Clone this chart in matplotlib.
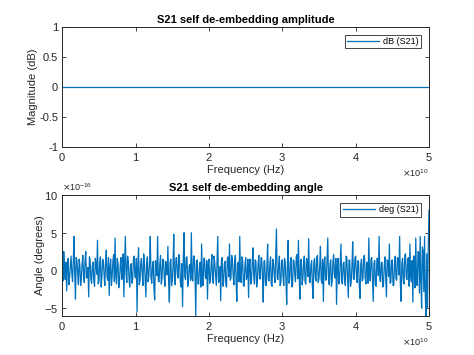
import numpy as np
import matplotlib
matplotlib.use("Agg")
from matplotlib import pyplot as plt
from matplotlib.ticker import ScalarFormatter, FuncFormatter

plt.rcParams['font.family'] = ['Liberation Sans', 'DejaVu Sans']
plt.rcParams['axes.unicode_minus'] = False

# ----------------- Data -----------------
f_start = 0.0
f_stop = 5e10
n_points = 501
freq = np.linspace(f_start, f_stop, n_points)

# self de-embedding -> S21 magnitude is exactly 0 dB everywhere
mag_db = np.zeros(n_points)

# phase residue (units of 1e-16 degrees)
phase_e16 = [
    0.5, -1.4, 2.5, 0.3, -1.2, 1.1, -2.7, 0.8, 1.6, -1.9, -0.8, 0.6, 1.9, -0.4, -1.5, 1.2, 4.5, -0.6, -3.8, 1.7,
    1.3, -0.5, -1.9, 1.5, 0.7, -2.0, -1.1, 0.9, 2.0, -0.7, -1.6, 1.3, 2.5, -1.0, -0.9, 0.4, -3.5, 1.8, 1.4, -1.2,
    -1.7, 0.6, 1.1, -1.4, -2.1, 1.6, 0.8, -0.5, 4.0, -1.8, -1.5, 0.9, 1.8, -2.2, -1.0, 1.5, 1.2, -0.6, -2.0, 1.1,
    2.7, -0.8, -1.3, 1.7, -3.3, 0.5, 1.5, -2.0, -0.7, 1.2, 2.1, -1.5, 4.3, -0.9, -1.8, 1.6, 1.0, -2.3, -1.4, 0.7,
    1.7, -1.2, -0.9, 2.2, -3.5, 1.0, 4.5, -0.4, -1.6, 1.9, 1.3, -1.1, -2.2, 0.5, 0.9, -1.7, -1.2, 1.4, 1.9, -0.8,
    -1.0, 1.6, -5.5, 0.7, 3.0, -1.9, -1.4, 1.0, 1.6, -0.6, -2.0, 2.2, 1.1, -1.3, -3.5, 0.8, 1.8, -1.5, -0.8, 1.2,
    4.5, -1.0, -1.7, 0.6, 1.2, -2.4, -3.9, 1.3, 0.9, -0.7, 4.5, -1.4, -1.5, 0.8, 2.0, -1.8, -1.1, 1.5, 1.4, -0.9,
    -2.1, 1.2, 1.0, -0.6, 3.2, -1.5, -4.2, 1.1, 1.5, -2.0, -1.3, 0.7, 4.8, -1.2, -1.9, 1.6, 1.7, -0.5, -1.0, 2.1,
    1.3, -1.6, -2.2, 0.9, -4.8, 1.4, 5.0, -0.8, -1.2, 1.7, 1.8, -2.1, -1.6, 0.6, 0.8, -1.3, 5.0, -1.0, -1.4, 1.9,
    1.9, -0.7, -6.0, 1.2, 1.4, -1.8, -1.8, 0.5, 1.1, -2.2, 3.5, -1.0, -2.0, 1.6, 1.6, -0.9, -1.1, 1.3, -3.8, 0.7,
    1.5, -1.7, -1.2, 0.8, 2.1, -1.4, -1.7, 1.9, 0.9, -0.6, -2.0, 1.2, 4.5, -1.6, -1.3, 0.5, -4.0, 1.4, 1.7, -2.1,
    -1.5, 0.9, 1.2, -1.9, -2.2, 1.5, 1.8, -0.8, 3.5, -1.3, -1.0, 2.0, 1.4, -0.7, -1.9, 1.1, 2.0, -1.6, -4.1, 0.8,
    1.1, -1.5, 4.5, -0.9, -1.6, 1.8, 1.3, -2.0, -2.1, 0.6, 1.7, -1.2, -0.9, 1.5, -3.6, 0.7, 1.5, -1.8, -1.4, 1.0,
    3.0, -0.6, -1.8, 1.4, 1.2, -2.2, -1.5, 0.9, 2.0, -1.1, -1.1, 1.7, 1.6, -0.8, -4.2, 1.2, 1.3, -1.6, -2.0, 0.5,
    3.5, -1.3, -1.4, 0.8, 1.8, -1.9, -2.1, 1.5, 1.0, -0.7, -1.6, 2.1, 5.5, -1.0, -1.2, 0.6, 1.9, -2.0, -1.7, 1.2,
    1.4, -0.9, -2.0, 1.6, 1.1, -1.3, -4.5, 0.8, 4.0, -1.7, -1.3, 1.0, 1.7, -2.2, -1.9, 1.4, 1.2, -0.6, -1.5, 1.8,
    2.1, -1.1, 4.0, -0.7, -3.8, 1.3, 1.5, -1.9, -1.2, 0.9, 1.9, -1.5, -1.8, 1.6, 1.0, -0.8, 4.2, -1.4, -1.6, 0.7,
    1.3, -2.0, -3.7, 1.1, 1.6, -0.9, -1.4, 1.8, 2.0, -1.6, -1.1, 0.6, 3.2, -1.2, -1.7, 1.5, -4.1, 0.9, 1.8, -1.3,
    -1.2, 1.7, 4.3, -1.0, -1.9, 0.8, 1.4, -2.1, -1.5, 1.2, 2.1, -0.7, -1.0, 1.6, -4.5, 0.5, 1.6, -1.8, -1.3, 1.1,
    3.5, -1.5, -1.8, 0.9, 1.1, -1.2, -2.0, 1.9, 1.7, -0.8, -3.6, 1.4, 1.3, -2.1, -1.5, 0.7, 3.8, -1.1, -1.2, 1.6,
    1.9, -0.6, -1.6, 1.3, 1.2, -2.0, -3.7, 0.8, 1.5, -1.4, -1.1, 1.8, 2.0, -0.9, -1.8, 1.1, 1.0, -1.7, 4.3, -0.5,
    -1.4, 1.5, 1.7, -1.2, -4.1, 0.9, 1.3, -1.9, -2.1, 1.6, 1.6, -0.7, 4.5, -1.3, -1.5, 1.0, 1.1, -2.2, -1.9, 0.6,
    1.8, -1.0, -3.5, 1.4, 1.2, -0.8, 3.5, -1.7, -1.6, 1.2, 1.4, -2.0, -2.0, 0.9, 1.9, -1.1, -1.3, 1.7, 1.5, -0.6,
    4.5, -1.8, -4.1, 1.0, 1.6, -1.4, -1.8, 2.0, 2.2, -0.9, -1.2, 1.5, 1.7, -2.1, 3.5, -0.7, -1.5, 1.3, -4.2, 1.9,
    1.9, -2.3, 4.3, -1.6, -2.0, 2.5, 2.4, -3.0, 4.5, -1.2, -5.0, 3.1, 2.6, -2.8, 4.5, -3.5, -6.0, 2.2, -5.0, 3.0,
    8.0,
]
phase_deg = np.array(phase_e16) * 1e-16

x_ticks = [0, 1e10, 2e10, 3e10, 4e10, 5e10]
mag_ticks = [-1, -0.5, 0, 0.5, 1]
ang_ticks = [-5e-16, 0, 5e-16, 10e-16]

line_color = '#0072BD'
axis_color = '#262626'


class FixedOrderFormatter(ScalarFormatter):
    # keep the multiplier at a fixed power of ten, like MATLAB does
    def __init__(self, order):
        super().__init__(useMathText=True)
        self._fixed_order = order

    def _set_order_of_magnitude(self):
        self.orderOfMagnitude = self._fixed_order


def style_axes(ax):
    for s in ax.spines.values():
        s.set_color(axis_color)
        s.set_linewidth(0.7)
    ax.tick_params(direction='in', top=True, right=True, length=3,
                   width=0.6, colors=axis_color, labelsize=8, pad=3)
    ax.xaxis.get_offset_text().set_fontsize(6.5)
    ax.yaxis.get_offset_text().set_fontsize(6.5)


def add_legend(ax):
    leg = ax.legend(loc='upper right', fontsize=6.5, fancybox=False, framealpha=1,
                    handlelength=3.6, handletextpad=0.4, borderpad=0.25,
                    borderaxespad=0.9)
    leg.get_frame().set_edgecolor(axis_color)
    leg.get_frame().set_linewidth(0.6)


fig = plt.figure(figsize=(4.74, 3.55), dpi=100)

# ----------------- Amplitude -----------------
ax1 = fig.add_axes([0.1314, 0.5868, 0.7736, 0.338])
ax1.plot(freq, mag_db, color=line_color, lw=0.9, label='dB (S21)')
ax1.set_xlim(0, 5e10)
ax1.set_ylim(-1, 1)
ax1.set_xticks(x_ticks)
ax1.set_yticks(mag_ticks)
ax1.yaxis.set_major_formatter(FuncFormatter(lambda v, p: f'{v:g}'))
ax1.xaxis.set_major_formatter(FixedOrderFormatter(10))
ax1.set_xlabel('Frequency (Hz)', fontsize=8, color=axis_color, labelpad=1.5)
ax1.set_ylabel('Magnitude (dB)', fontsize=8, color=axis_color, labelpad=1)
ax1.set_title('S21 self de-embedding amplitude', fontsize=8, fontweight='bold', pad=3)
style_axes(ax1)
add_legend(ax1)

# ----------------- Angle -----------------
ax2 = fig.add_axes([0.1314, 0.1107, 0.7736, 0.340])
ax2.plot(freq, phase_deg, color=line_color, lw=0.9, label='deg (S21)')
ax2.set_xlim(0, 5e10)
ax2.set_ylim(-6e-16, 10e-16)
ax2.set_xticks(x_ticks)
ax2.set_yticks(ang_ticks)
ax2.xaxis.set_major_formatter(FixedOrderFormatter(10))
ax2.yaxis.set_major_formatter(FixedOrderFormatter(-16))
ax2.set_xlabel('Frequency (Hz)', fontsize=8, color=axis_color, labelpad=1.5)
ax2.set_ylabel('Angle (degrees)', fontsize=8, color=axis_color, labelpad=-1)
ax2.set_title('S21 self de-embedding angle', fontsize=8, fontweight='bold', pad=3)
style_axes(ax2)
add_legend(ax2)

fig.savefig('out.png', dpi=100)
